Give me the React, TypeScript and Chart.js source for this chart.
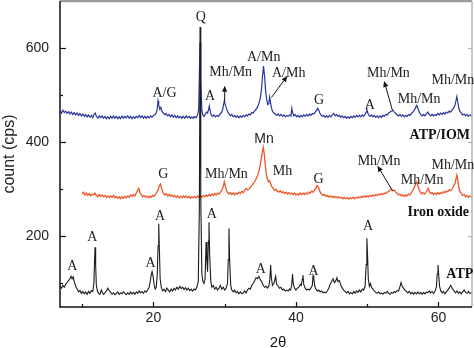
import React, { useEffect, useRef } from 'react';
import { Chart, registerables } from 'chart.js';

Chart.register(...registerables);

// ---- axis ranges / ticks ----
const X_MIN = 6.9;
const X_MAX = 64.7;
const Y_MIN = 50;
const Y_MAX = 700;
const X_LABELED = [20, 40, 60];
const Y_LABELED = [200, 400, 600];

// ---- series: [2θ, count] ----
const ATP: [number, number][] = [
  [6.9,94],[7.1,90],[7.3,96],[7.5,92],[7.7,98],[7.9,102],[8.1,106],[8.3,110],[8.45,115],[8.6,110],[8.75,114],[8.9,104],[9.1,94],[9.3,88],[9.5,82],[9.7,85],[9.9,79],[10.1,83],[10.3,78],[10.5,82],[10.7,77],[10.9,83],[11.1,79],[11.3,85],[11.5,83],[11.65,100],[11.75,150],[11.82,177],[11.9,140],[12.0,96],[12.15,84],[12.3,79],[12.5,77],[12.7,86],[12.85,81],[13.0,77],[13.2,80],[13.4,84],[13.6,90],[13.8,85],[14.0,81],[14.2,77],[14.4,80],[14.6,76],[14.8,79],[15.0,82],[15.2,77],[15.4,80],[15.6,78],[15.8,82],[16.0,79],[16.2,76],[16.4,80],[16.6,77],[16.8,82],[17.0,78],[17.2,81],[17.4,77],[17.6,82],[17.8,79],[18.0,84],[18.2,80],[18.4,83],[18.6,79],[18.8,84],[19.0,82],[19.2,86],[19.4,92],[19.55,104],[19.7,118],[19.82,125],[19.95,116],[20.1,98],[20.25,88],[20.4,92],[20.55,120],[20.65,180],[20.75,227],[20.85,170],[20.95,110],[21.1,92],[21.3,84],[21.5,88],[21.7,83],[21.9,90],[22.1,86],[22.3,82],[22.5,88],[22.7,84],[22.9,90],[23.1,86],[23.3,92],[23.5,88],[23.7,94],[23.9,89],[24.1,92],[24.3,87],[24.5,91],[24.7,86],[24.9,90],[25.1,85],[25.3,88],[25.5,84],[25.7,88],[25.9,86],[26.1,92],[26.3,104],[26.45,260],[26.55,645],[26.65,280],[26.8,120],[26.95,104],[27.1,100],[27.25,110],[27.4,188],[27.5,150],[27.6,125],[27.72,190],[27.8,230],[27.9,160],[28.05,105],[28.2,92],[28.4,96],[28.6,88],[28.8,92],[29.0,86],[29.2,90],[29.4,96],[29.6,88],[29.8,92],[30.0,86],[30.2,90],[30.4,100],[30.5,150],[30.6,217],[30.7,150],[30.85,96],[31.0,86],[31.2,82],[31.4,86],[31.6,80],[31.8,83],[32.0,78],[32.2,82],[32.4,78],[32.6,80],[32.8,84],[33.0,80],[33.2,86],[33.4,90],[33.6,88],[33.8,96],[34.0,100],[34.2,106],[34.4,112],[34.6,110],[34.8,115],[35.0,108],[35.2,104],[35.4,96],[35.6,92],[35.8,94],[36.0,90],[36.2,94],[36.35,110],[36.45,139],[36.55,112],[36.7,96],[36.9,100],[37.05,108],[37.15,115],[37.3,98],[37.5,94],[37.7,90],[37.9,92],[38.1,86],[38.3,88],[38.5,84],[38.7,86],[38.9,84],[39.1,88],[39.25,86],[39.4,96],[39.52,120],[39.62,100],[39.8,90],[40.0,86],[40.2,90],[40.4,92],[40.6,98],[40.75,96],[40.9,110],[40.98,118],[41.1,98],[41.3,90],[41.5,86],[41.7,88],[41.9,86],[42.1,90],[42.3,96],[42.4,117],[42.5,112],[42.65,94],[42.8,88],[43.0,84],[43.2,86],[43.4,82],[43.6,84],[43.8,80],[44.0,82],[44.2,80],[44.4,84],[44.6,90],[44.8,98],[45.0,104],[45.2,110],[45.4,102],[45.6,106],[45.75,112],[45.9,104],[46.1,106],[46.3,96],[46.5,90],[46.7,86],[46.9,83],[47.1,80],[47.3,83],[47.5,78],[47.7,81],[47.9,78],[48.1,83],[48.3,79],[48.5,84],[48.7,81],[48.9,86],[49.1,82],[49.3,88],[49.5,86],[49.7,94],[49.85,140],[49.95,196],[50.05,160],[50.15,110],[50.3,94],[50.45,100],[50.6,92],[50.8,88],[51.0,84],[51.2,81],[51.4,79],[51.6,82],[51.8,78],[52.0,80],[52.2,77],[52.4,81],[52.6,79],[52.8,83],[53.0,79],[53.2,77],[53.4,81],[53.6,79],[53.8,83],[54.0,81],[54.2,85],[54.4,84],[54.6,94],[54.75,102],[54.9,94],[55.1,90],[55.3,86],[55.5,83],[55.7,80],[55.9,83],[56.1,78],[56.3,81],[56.5,77],[56.7,81],[56.9,78],[57.1,82],[57.3,78],[57.5,81],[57.7,77],[57.9,81],[58.1,78],[58.3,82],[58.5,80],[58.7,84],[58.9,80],[59.1,83],[59.3,79],[59.5,83],[59.7,92],[59.82,120],[59.92,139],[60.02,120],[60.15,94],[60.3,85],[60.5,80],[60.7,83],[60.9,78],[61.1,82],[61.3,86],[61.5,90],[61.7,96],[61.85,92],[62.0,88],[62.2,84],[62.4,80],[62.6,84],[62.8,79],[63.0,82],[63.2,78],[63.4,82],[63.6,86],[63.8,81],[64.0,79],[64.2,83],[64.4,79],[64.7,81]
];

const IRON_OXIDE: [number, number][] = [
  [10.0,290],[10.2,294],[10.4,288],[10.6,292],[10.8,287],[11.0,291],[11.2,286],[11.4,290],[11.6,288],[11.8,292],[12.0,287],[12.2,284],[12.4,289],[12.6,285],[12.8,288],[13.0,284],[13.2,287],[13.4,283],[13.6,286],[13.8,282],[14.0,286],[14.2,283],[14.4,287],[14.6,282],[14.8,285],[15.0,281],[15.2,284],[15.4,280],[15.6,284],[15.8,281],[16.0,285],[16.2,282],[16.4,286],[16.6,283],[16.8,288],[17.0,285],[17.2,289],[17.4,286],[17.6,292],[17.8,298],[17.95,302],[18.1,294],[18.3,288],[18.5,284],[18.7,287],[18.9,283],[19.1,286],[19.3,282],[19.5,285],[19.7,283],[19.9,287],[20.1,285],[20.3,290],[20.5,294],[20.7,300],[20.85,308],[21.0,311],[21.1,304],[21.25,298],[21.4,292],[21.6,288],[21.8,291],[22.0,286],[22.2,289],[22.4,285],[22.6,288],[22.8,284],[23.0,287],[23.2,283],[23.4,286],[23.6,282],[23.8,285],[24.0,282],[24.2,286],[24.4,283],[24.6,286],[24.8,282],[25.0,285],[25.2,281],[25.4,284],[25.6,282],[25.8,285],[26.0,282],[26.2,286],[26.4,283],[26.6,286],[26.8,283],[27.0,287],[27.2,284],[27.4,288],[27.6,285],[27.8,289],[28.0,286],[28.2,290],[28.4,287],[28.6,291],[28.8,288],[29.0,292],[29.2,290],[29.4,294],[29.6,298],[29.8,306],[29.95,316],[30.1,306],[30.25,298],[30.4,294],[30.6,290],[30.8,293],[31.0,289],[31.2,292],[31.4,288],[31.6,292],[31.8,290],[32.0,294],[32.2,291],[32.4,296],[32.6,293],[32.8,298],[33.0,302],[33.2,299],[33.4,300],[33.6,304],[33.8,308],[34.0,312],[34.2,316],[34.4,322],[34.6,328],[34.8,338],[35.0,352],[35.15,366],[35.3,380],[35.42,389],[35.55,376],[35.7,352],[35.85,332],[36.0,322],[36.15,316],[36.3,318],[36.45,312],[36.6,306],[36.8,302],[37.0,298],[37.2,300],[37.4,296],[37.6,294],[37.8,297],[38.0,293],[38.2,295],[38.4,291],[38.6,294],[38.8,290],[39.0,293],[39.2,290],[39.4,292],[39.6,289],[39.8,292],[40.0,288],[40.2,291],[40.4,288],[40.6,292],[40.8,289],[41.0,292],[41.2,289],[41.4,292],[41.6,290],[41.8,294],[42.0,292],[42.2,296],[42.4,294],[42.6,298],[42.8,302],[42.95,308],[43.1,306],[43.25,300],[43.4,294],[43.6,290],[43.8,287],[44.0,289],[44.2,285],[44.4,287],[44.6,284],[44.8,286],[45.0,283],[45.2,285],[45.4,282],[45.6,285],[45.8,282],[46.0,284],[46.2,281],[46.4,283],[46.6,280],[46.8,283],[47.0,280],[47.2,282],[47.4,279],[47.6,282],[47.8,280],[48.0,283],[48.2,280],[48.4,283],[48.6,281],[48.8,284],[49.0,282],[49.2,285],[49.4,283],[49.6,286],[49.8,283],[50.0,286],[50.2,284],[50.4,287],[50.6,285],[50.8,288],[51.0,286],[51.2,289],[51.4,287],[51.6,290],[51.8,288],[52.0,291],[52.2,289],[52.4,292],[52.6,291],[52.8,294],[53.0,295],[53.2,298],[53.4,300],[53.6,297],[53.8,298],[54.0,294],[54.2,291],[54.4,288],[54.6,290],[54.8,286],[55.0,288],[55.2,285],[55.4,288],[55.6,286],[55.8,290],[56.0,288],[56.2,293],[56.4,298],[56.6,304],[56.8,312],[56.95,316],[57.1,308],[57.25,300],[57.4,295],[57.6,291],[57.8,293],[58.0,290],[58.2,293],[58.4,298],[58.55,302],[58.7,296],[58.9,291],[59.1,293],[59.3,289],[59.5,292],[59.7,289],[59.9,293],[60.1,290],[60.3,293],[60.5,291],[60.7,295],[60.9,293],[61.1,296],[61.3,295],[61.5,299],[61.7,297],[61.9,301],[62.1,306],[62.3,312],[62.45,322],[62.58,330],[62.7,320],[62.85,304],[63.0,296],[63.2,291],[63.4,287],[63.6,289],[63.8,284],[64.0,287],[64.2,283],[64.4,286],[64.7,284]
];

const ATP_IOM: [number, number][] = [
  [6.9,466],[7.1,462],[7.3,468],[7.5,463],[7.7,466],[7.9,461],[8.1,465],[8.3,460],[8.5,464],[8.7,459],[8.9,463],[9.1,458],[9.3,462],[9.5,457],[9.7,461],[9.9,456],[10.1,460],[10.3,455],[10.5,459],[10.7,454],[10.9,458],[11.1,453],[11.3,457],[11.5,452],[11.7,460],[11.85,462],[12.0,455],[12.2,451],[12.4,456],[12.6,452],[12.8,456],[13.0,451],[13.2,455],[13.4,450],[13.6,454],[13.8,450],[14.0,455],[14.2,451],[14.4,456],[14.6,451],[14.8,455],[15.0,450],[15.2,454],[15.4,450],[15.6,456],[15.8,451],[16.0,455],[16.2,452],[16.4,456],[16.6,451],[16.8,455],[17.0,450],[17.2,454],[17.4,451],[17.6,455],[17.8,452],[18.0,457],[18.2,452],[18.4,456],[18.6,451],[18.8,455],[19.0,451],[19.2,455],[19.4,452],[19.6,456],[19.8,453],[20.0,457],[20.2,458],[20.4,462],[20.55,472],[20.65,488],[20.75,480],[20.9,470],[21.05,474],[21.2,466],[21.4,462],[21.6,458],[21.8,461],[22.0,456],[22.2,459],[22.4,454],[22.6,458],[22.8,453],[23.0,457],[23.2,452],[23.4,456],[23.6,452],[23.8,455],[24.0,451],[24.2,455],[24.4,451],[24.6,456],[24.8,452],[25.0,455],[25.2,451],[25.4,454],[25.6,451],[25.8,455],[26.0,452],[26.2,458],[26.35,470],[26.45,540],[26.55,612],[26.65,530],[26.8,468],[26.95,458],[27.1,455],[27.3,460],[27.45,464],[27.6,462],[27.75,470],[27.85,477],[27.95,468],[28.1,458],[28.3,455],[28.5,458],[28.7,454],[28.9,457],[29.1,455],[29.3,459],[29.5,462],[29.7,468],[29.85,480],[29.95,488],[30.05,482],[30.2,474],[30.4,466],[30.6,460],[30.8,456],[31.0,459],[31.2,454],[31.4,457],[31.6,453],[31.8,456],[32.0,452],[32.2,456],[32.4,453],[32.6,457],[32.8,454],[33.0,458],[33.2,456],[33.4,460],[33.6,458],[33.8,463],[34.0,462],[34.2,466],[34.4,470],[34.6,474],[34.8,482],[35.0,494],[35.15,510],[35.3,538],[35.45,562],[35.6,540],[35.75,508],[35.9,490],[36.05,480],[36.2,482],[36.3,496],[36.4,488],[36.55,474],[36.7,466],[36.9,462],[37.1,460],[37.3,457],[37.5,460],[37.7,456],[37.9,459],[38.1,455],[38.3,458],[38.5,454],[38.7,457],[38.9,455],[39.1,458],[39.3,456],[39.42,472],[39.52,464],[39.7,456],[39.9,459],[40.1,454],[40.3,457],[40.5,453],[40.7,457],[40.9,454],[41.1,458],[41.3,455],[41.5,459],[41.7,456],[41.9,460],[42.1,457],[42.3,461],[42.5,460],[42.7,464],[42.9,468],[43.05,472],[43.2,468],[43.35,462],[43.5,458],[43.7,455],[43.9,457],[44.1,453],[44.3,456],[44.5,453],[44.7,457],[44.9,454],[45.1,458],[45.3,461],[45.5,456],[45.7,459],[45.9,455],[46.1,457],[46.3,453],[46.5,456],[46.7,452],[46.9,455],[47.1,451],[47.3,454],[47.5,451],[47.7,455],[47.9,452],[48.1,456],[48.3,453],[48.5,457],[48.7,454],[48.9,457],[49.1,454],[49.3,458],[49.5,455],[49.7,459],[49.85,464],[49.95,470],[50.05,464],[50.2,458],[50.4,455],[50.6,458],[50.8,454],[51.0,457],[51.2,453],[51.4,456],[51.6,452],[51.8,456],[52.0,453],[52.2,457],[52.4,455],[52.6,459],[52.8,458],[53.0,462],[53.2,464],[53.4,466],[53.6,468],[53.8,464],[54.0,461],[54.2,458],[54.4,456],[54.6,459],[54.8,455],[55.0,458],[55.2,454],[55.4,457],[55.6,455],[55.8,459],[56.0,457],[56.2,461],[56.4,464],[56.6,468],[56.8,474],[56.95,478],[57.1,472],[57.3,464],[57.5,459],[57.7,456],[57.9,459],[58.1,456],[58.3,460],[58.5,464],[58.7,459],[58.9,456],[59.1,459],[59.3,456],[59.5,459],[59.7,457],[59.9,461],[60.1,458],[60.3,462],[60.5,459],[60.7,463],[60.9,460],[61.1,464],[61.3,462],[61.5,466],[61.7,464],[61.9,468],[62.1,472],[62.3,478],[62.45,488],[62.58,497],[62.7,486],[62.85,472],[63.0,466],[63.2,462],[63.4,458],[63.6,460],[63.8,456],[64.0,459],[64.2,455],[64.4,458],[64.7,456]
];

// ---- peak annotations: [text, 2θ, count] ----
const IOM_PEAK_LABELS: [string, number, number][] = [
  ['A/G', 21.56, 505], ['Q', 26.64, 668], ['A', 27.94, 500], ['Mh/Mn', 30.85, 551],
  ['A/Mn', 35.48, 583], ['A/Mh', 38.99, 549], ['G', 43.24, 490], ['A', 50.36, 481],
  ['Mh/Mn', 52.98, 549], ['Mh/Mn', 57.28, 493], ['Mh/Mn', 62.01, 534],
];
const OXIDE_PEAK_LABELS: [string, number, number][] = [
  ['G', 21.4, 333], ['Mh/Mn', 30.25, 333], ['Mh', 38.11, 340], ['G', 43.16, 323],
  ['Mh/Mn', 51.66, 362], ['Mh/Mn', 57.7, 320], ['Mh/Mn', 62.01, 352],
];
const OXIDE_SANS_LABELS: [string, number, number][] = [['Mn', 35.52, 410]];
const ATP_PEAK_LABELS: [string, number, number][] = [
  ['A', 8.63, 139], ['A', 11.44, 200], ['A', 19.62, 144], ['A', 20.93, 244],
  ['A', 28.18, 249], ['A', 35.06, 132], ['A', 42.46, 127], ['A', 50.12, 223],
];
const SERIES_LABELS: [string, number, number][] = [
  ['ATP/IOM', 60.18, 417], ['Iron oxide', 59.97, 253], ['ATP', 62.99, 121],
];
// arrows: [from 2θ, from count, to 2θ, to count]
const ARROWS: [number, number, number, number][] = [
  [30.0, 487, 30.0, 520],
  [36.56, 495, 38.8, 541],
  [53.55, 467, 52.37, 530],
  [53.55, 297, 51.44, 350],
];

const overlay = {
  id: 'overlay',
  afterDraw(chart: any) {
    const { ctx, chartArea: a, scales } = chart;
    const xs = scales.x;
    const ys = scales.y;
    ctx.save();
    // frame
    ctx.strokeStyle = '#9c9c9c';
    ctx.lineWidth = 2.5;
    ctx.beginPath();
    ctx.moveTo(a.left, a.top);
    ctx.lineTo(a.right, a.top);
    ctx.stroke();
    ctx.strokeStyle = '#b4b4b4';
    ctx.lineWidth = 1.5;
    ctx.beginPath();
    ctx.moveTo(a.right, a.top);
    ctx.lineTo(a.right, a.bottom);
    ctx.stroke();
    ctx.strokeStyle = '#111';
    ctx.lineWidth = 1.5;
    ctx.beginPath();
    ctx.moveTo(a.left, a.top);
    ctx.lineTo(a.left, a.bottom);
    ctx.lineTo(a.right, a.bottom);
    ctx.stroke();
    // inward ticks
    ctx.lineWidth = 1.2;
    for (const t of xs.ticks) {
      const px = Math.round(xs.getPixelForValue(t.value)) + 0.5;
      const len = X_LABELED.includes(t.value) ? 5 : 3;
      ctx.strokeStyle = '#111';
      ctx.beginPath();
      ctx.moveTo(px, a.bottom);
      ctx.lineTo(px, a.bottom - len);
      ctx.stroke();
    }
    for (const t of ys.ticks) {
      if (t.value >= Y_MAX) continue;
      const py = Math.round(ys.getPixelForValue(t.value)) + 0.5;
      const len = Y_LABELED.includes(t.value) ? 6 : 3;
      ctx.strokeStyle = '#111';
      ctx.beginPath();
      ctx.moveTo(a.left, py);
      ctx.lineTo(a.left + len, py);
      ctx.stroke();
      ctx.strokeStyle = '#b4b4b4';
      ctx.beginPath();
      ctx.moveTo(a.right, py);
      ctx.lineTo(a.right - len + 2, py);
      ctx.stroke();
    }
    // x title
    ctx.fillStyle = '#1a1a1a';
    ctx.font = '15px "Liberation Sans", Arial, sans-serif';
    ctx.textAlign = 'center';
    ctx.textBaseline = 'alphabetic';
    ctx.fillText('2θ', xs.getPixelForValue(37.5), 347);

    const put = (list: [string, number, number][], font: string, off: number) => {
      ctx.font = font;
      ctx.textAlign = 'center';
      ctx.textBaseline = 'alphabetic';
      for (const [t, xv, yv] of list) {
        ctx.fillText(t, xs.getPixelForValue(xv), ys.getPixelForValue(yv) + off);
      }
    };
    ctx.fillStyle = '#222';
    put(IOM_PEAK_LABELS, '14px "Liberation Serif", "Times New Roman", serif', 4.6);
    put(OXIDE_PEAK_LABELS, '14px "Liberation Serif", "Times New Roman", serif', 4.6);
    put(ATP_PEAK_LABELS, '14px "Liberation Serif", "Times New Roman", serif', 4.6);
    put(OXIDE_SANS_LABELS, '14px "Liberation Sans", Arial, sans-serif', 5);
    ctx.fillStyle = '#111';
    put(SERIES_LABELS, 'bold 14px "Liberation Serif", "Times New Roman", serif', 4.6);

    // arrows
    ctx.strokeStyle = '#111';
    ctx.fillStyle = '#111';
    ctx.lineWidth = 1;
    for (const [x1, y1, x2, y2] of ARROWS) {
      const p1x = xs.getPixelForValue(x1), p1y = ys.getPixelForValue(y1);
      const p2x = xs.getPixelForValue(x2), p2y = ys.getPixelForValue(y2);
      const ang = Math.atan2(p2y - p1y, p2x - p1x);
      const hl = 6, hw = 2.6;
      const bx = p2x - hl * Math.cos(ang), by = p2y - hl * Math.sin(ang);
      ctx.beginPath();
      ctx.moveTo(p1x, p1y);
      ctx.lineTo(bx, by);
      ctx.stroke();
      ctx.beginPath();
      ctx.moveTo(p2x, p2y);
      ctx.lineTo(bx + hw * Math.sin(ang), by - hw * Math.cos(ang));
      ctx.lineTo(bx - hw * Math.sin(ang), by + hw * Math.cos(ang));
      ctx.closePath();
      ctx.fill();
    }
    ctx.restore();
  },
};

const toXY = (arr: [number, number][]) => arr.map(([x, y]) => ({ x, y }));

export default function App() {
  const ref = useRef<HTMLCanvasElement | null>(null);
  useEffect(() => {
    if (!ref.current) return;
    const chart = new Chart(ref.current, {
      type: 'line',
      data: {
        datasets: [
          { label: 'ATP', data: toXY(ATP), borderColor: '#1c1c1c', borderWidth: 1.1, pointRadius: 0, tension: 0, order: 0 },
          { label: 'Iron oxide', data: toXY(IRON_OXIDE), borderColor: '#ef5528', borderWidth: 1.3, pointRadius: 0, tension: 0, order: 1 },
          { label: 'ATP/IOM', data: toXY(ATP_IOM), borderColor: '#29369c', borderWidth: 1.2, pointRadius: 0, tension: 0, order: 2 },
        ],
      },
      options: {
        responsive: false,
        animation: false,
        events: [],
        layout: { padding: { top: 1, right: 2, left: 0, bottom: 0 } },
        plugins: { legend: { display: false }, tooltip: { enabled: false } },
        scales: {
          x: {
            type: 'linear',
            min: X_MIN,
            max: X_MAX,
            grid: { display: false },
            border: { display: false },
            afterFit: (s: any) => { s.height = 41; s.paddingLeft = 0; s.paddingRight = 0; },
            ticks: {
              stepSize: 10,
              includeBounds: false,
              autoSkip: false,
              maxRotation: 0,
              padding: -5,
              color: '#222',
              font: { family: '"Liberation Sans", Arial, sans-serif', size: 14 },
              callback: (v: any) => (X_LABELED.includes(Number(v)) ? String(v) : ''),
            },
          },
          y: {
            type: 'linear',
            min: Y_MIN,
            max: Y_MAX,
            grid: { display: false },
            border: { display: false },
            afterFit: (s: any) => { s.width = 60; s.paddingTop = 0; s.paddingBottom = 0; },
            title: {
              display: true,
              text: 'count (cps)',
              color: '#222',
              padding: { top: 0, bottom: 0 },
              font: { family: '"Liberation Sans", Arial, sans-serif', size: 16 },
            },
            ticks: {
              stepSize: 100,
              includeBounds: false,
              autoSkip: false,
              padding: 3,
              color: '#222',
              font: { family: '"Liberation Sans", Arial, sans-serif', size: 14 },
              callback: (v: any) => (Y_LABELED.includes(Number(v)) ? String(v) : ''),
            },
          },
        },
      },
      plugins: [overlay],
    } as any);
    return () => chart.destroy();
  }, []);
  return (
    <div style={{ position: 'fixed', left: 0, top: 0, width: 474, height: 348, background: '#fff' }}>
      <canvas ref={ref} width={474} height={348} style={{ display: 'block' }} />
    </div>
  );
}
